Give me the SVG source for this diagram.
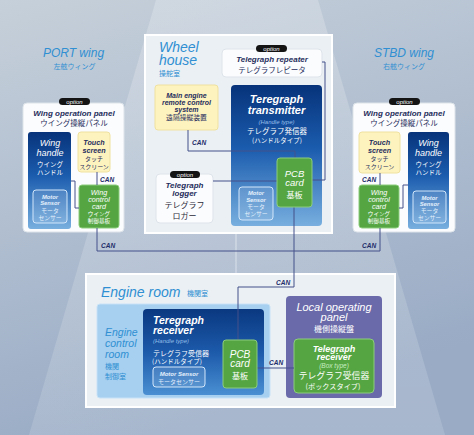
<svg xmlns="http://www.w3.org/2000/svg" width="474" height="435" viewBox="0 0 474 435">
<defs>
<linearGradient id="bg" x1="0" y1="0" x2="0.3" y2="1"><stop offset="0" stop-color="#c6d0da"/><stop offset="1" stop-color="#99abc5"/></linearGradient>
<linearGradient id="beam" x1="0" y1="0" x2="0" y2="1"><stop offset="0" stop-color="#ffffff" stop-opacity="0.22"/><stop offset="1" stop-color="#ffffff" stop-opacity="0.14"/></linearGradient>
<linearGradient id="blueG" x1="0" y1="0" x2="0" y2="1"><stop offset="0" stop-color="#07337a"/><stop offset="0.45" stop-color="#1b5cae"/><stop offset="1" stop-color="#78afdf"/></linearGradient>
<linearGradient id="blueR" x1="0" y1="0" x2="0" y2="1"><stop offset="0" stop-color="#0a3880"/><stop offset="0.5" stop-color="#1c5aaa"/><stop offset="1" stop-color="#4a8fd2"/></linearGradient>
<style>
.t{font-family:"Liberation Sans",Arial,"Noto Sans CJK JP",sans-serif}
.j{font-family:"Noto Sans CJK JP","Noto Sans CJK SC",sans-serif}
.m{text-anchor:middle}
.bi{font-weight:bold;font-style:italic}
.i{font-style:italic}
.nv{fill:#1f2d5c}
.w{fill:#fff}
.ttl{fill:#2f8fd2;font-style:italic;font-family:"Liberation Sans",Arial,sans-serif}
.ttlj{fill:#2f8fd2;font-family:"Noto Sans CJK JP",sans-serif}
.can{font-family:"Liberation Sans",Arial,sans-serif;font-weight:bold;font-style:italic;font-size:6.5px;fill:#1f2d6a}
.pill{fill:#141414}
.pt{font-family:"Liberation Sans",Arial,sans-serif;font-style:italic;font-size:6px;fill:#fff;text-anchor:middle}
.ln{fill:none;stroke:#45508a;stroke-width:1}
.panel{fill:#ebf0f4;stroke:#ffffff;stroke-width:2}
.wbox{fill:#fbfcfd;stroke:#dde4ea;stroke-width:1}
.yel{fill:#fdf3bf;stroke:#efe1a0;stroke-width:1}
.grn{fill:#55a643;stroke:#8ccc7c;stroke-width:1}
.ms{fill:#ffffff;fill-opacity:0.12;stroke:#d2e6fa;stroke-width:1}
.lt{fill:#e4f0fc}
</style>
</defs>

<rect width="474" height="435" fill="url(#bg)"/>
<polygon points="156,0 318,0 445,435 29,435" fill="url(#beam)"/>
<line x1="236" y1="233" x2="236" y2="274" stroke="#ffffff" stroke-opacity="0.5"/>

<!-- area titles -->
<g id="port-title">
<text class="ttl m" x="73.5" y="57" font-size="12">PORT wing</text>
<text class="ttlj m" x="74.5" y="68.5" font-size="7">左舷ウィング</text>
</g>
<g id="stbd-title">
<text class="ttl m" x="404" y="57" font-size="12">STBD wing</text>
<text class="ttlj m" x="404" y="69" font-size="7">右舷ウィング</text>
</g>

<!-- Wheel house -->
<g id="wheelhouse">
<rect class="panel" x="145" y="35" width="187" height="198"/>
<text class="ttl" x="159" y="52" font-size="14">Wheel</text>
<text class="ttl" x="159" y="65" font-size="14">house</text>
<text class="ttlj" x="159" y="76" font-size="7">操舵室</text>
</g>

<!-- Engine room -->
<g id="engineroom">
<rect class="panel" x="86" y="274" width="309" height="133"/>
<text class="ttl" x="101" y="297" font-size="14">Engine room</text>
<text class="ttlj" x="187" y="296" font-size="7">機関室</text>
</g>

<g id="engine-control-room">
<rect x="97" y="304" width="173" height="94" rx="3" fill="#a6cff0" stroke="#c8e2f6"/>
<text class="ttl" x="105" y="336" font-size="10.5">Engine</text>
<text class="ttl" x="105" y="347" font-size="10.5">control</text>
<text class="ttl" x="105" y="358" font-size="10.5">room</text>
<text class="ttlj" x="105" y="369" font-size="7">機関</text>
<text class="ttlj" x="105" y="379" font-size="7">制御室</text>
</g>

<!-- Left wing panel -->
<g id="port-wing-panel">
<rect class="wbox" x="23" y="103" width="101" height="129" rx="4"/>
<rect class="pill" x="59" y="98" width="31" height="7" rx="3.5"/>
<text class="pt" x="74.5" y="103.8">option</text>
<text class="t bi nv m" x="74" y="116" font-size="8">Wing operation panel</text>
<text class="j nv m" x="74" y="126" font-size="7.5">ウイング操縦パネル</text>
</g>
<g id="port-wing-handle">
<rect x="28" y="132" width="43" height="97" rx="3" fill="url(#blueG)"/>
<text class="t i w m" x="50" y="146" font-size="9">Wing</text>
<text class="t i w m" x="50" y="156" font-size="9">handle</text>
<text class="j w m" x="50" y="166.5" font-size="6.5">ウイング</text>
<text class="j w m" x="50" y="175" font-size="6.5">ハンドル</text>
<rect class="ms" x="33" y="190" width="34" height="33" rx="3"/>
<text class="t bi m lt" x="50" y="199" font-size="5.8">Motor</text>
<text class="t bi m lt" x="50" y="205" font-size="5.8">Sensor</text>
<text class="j m lt" x="50" y="212.5" font-size="5.8">モータ</text>
<text class="j m lt" x="50" y="220" font-size="5.8">センサー</text>
</g>
<g id="port-touch-screen">
<rect class="yel" x="78" y="132" width="32" height="40" rx="3"/>
<text class="t bi nv m" x="94" y="145" font-size="7.2">Touch</text>
<text class="t bi nv m" x="94" y="152.5" font-size="7.2">screen</text>
<text class="j nv m" x="94" y="161" font-size="6">タッチ</text>
<text class="j nv m" x="94" y="168.5" font-size="6">スクリーン</text>
</g>
<g id="port-wing-control-card">
<rect class="grn" x="79" y="185" width="40" height="43" rx="3"/>
<text class="t i w m" x="99" y="194.5" font-size="7.2">Wing</text>
<text class="t i w m" x="99" y="201.5" font-size="7.2">control</text>
<text class="t i w m" x="99" y="208.5" font-size="7.2">card</text>
<text class="j w m" x="99" y="215.5" font-size="5.6">ウイング</text>
<text class="j w m" x="99" y="223" font-size="5.6">制御基板</text>
</g>

<!-- Right wing panel -->
<g id="stbd-wing-panel">
<rect class="wbox" x="353" y="103" width="102" height="129" rx="4"/>
<rect class="pill" x="389" y="98" width="31" height="7" rx="3.5"/>
<text class="pt" x="404.5" y="103.8">option</text>
<text class="t bi nv m" x="404" y="116" font-size="8">Wing operation panel</text>
<text class="j nv m" x="404" y="126" font-size="7.5">ウイング操縦パネル</text>
</g>
<g id="stbd-touch-screen">
<rect class="yel" x="359" y="132" width="41" height="41" rx="3"/>
<text class="t bi nv m" x="379.5" y="145" font-size="7.2">Touch</text>
<text class="t bi nv m" x="379.5" y="152.5" font-size="7.2">screen</text>
<text class="j nv m" x="379.5" y="161" font-size="6">タッチ</text>
<text class="j nv m" x="379.5" y="168.5" font-size="6">スクリーン</text>
</g>
<g id="stbd-wing-handle">
<rect x="408" y="132" width="41" height="97" rx="3" fill="url(#blueG)"/>
<text class="t i w m" x="428.5" y="146" font-size="9">Wing</text>
<text class="t i w m" x="428.5" y="156" font-size="9">handle</text>
<text class="j w m" x="428.5" y="166.5" font-size="6.5">ウイング</text>
<text class="j w m" x="428.5" y="175" font-size="6.5">ハンドル</text>
<rect class="ms" x="413" y="191" width="33" height="32" rx="3"/>
<text class="t bi m lt" x="429.5" y="199.5" font-size="5.8">Motor</text>
<text class="t bi m lt" x="429.5" y="205.5" font-size="5.8">Sensor</text>
<text class="j m lt" x="429.5" y="212.5" font-size="5.8">モータ</text>
<text class="j m lt" x="429.5" y="220" font-size="5.8">センサー</text>
</g>
<g id="stbd-wing-control-card">
<rect class="grn" x="359" y="185" width="40" height="43" rx="3"/>
<text class="t i w m" x="379" y="194.5" font-size="7.2">Wing</text>
<text class="t i w m" x="379" y="201.5" font-size="7.2">control</text>
<text class="t i w m" x="379" y="208.5" font-size="7.2">card</text>
<text class="j w m" x="379" y="215.5" font-size="5.6">ウイング</text>
<text class="j w m" x="379" y="223" font-size="5.6">制御基板</text>
</g>

<!-- Wheel house nodes -->
<g id="telegraph-repeater">
<rect class="wbox" x="222" y="49" width="100" height="28" rx="4"/>
<rect class="pill" x="256" y="45" width="31" height="7" rx="3.5"/>
<text class="pt" x="271.5" y="50.8">option</text>
<text class="t bi nv m" x="272" y="62" font-size="8">Telegraph repeater</text>
<text class="j nv m" x="272" y="72.5" font-size="7.5">テレグラフレピータ</text>
</g>
<g id="main-engine-remote">
<rect class="yel" x="155" y="85" width="63" height="45" rx="3"/>
<text class="t bi nv m" x="186.5" y="98" font-size="7">Main engine</text>
<text class="t bi nv m" x="186.5" y="105" font-size="7">remote control</text>
<text class="t bi nv m" x="186.5" y="111.5" font-size="7">system</text>
<text class="j nv m" x="186.5" y="119.5" font-size="6.8">遠隔操縦装置</text>
</g>
<g id="telegraph-transmitter">
<rect x="231" y="85" width="91" height="141" rx="4" fill="url(#blueG)"/>
<text class="t bi w m" x="276.5" y="103" font-size="11">Teregraph</text>
<text class="t bi w m" x="276.5" y="113.5" font-size="11">transmitter</text>
<text class="t i m" x="276.5" y="123.5" font-size="6" fill="#93bdea">(Handle type)</text>
<text class="j w m" x="277" y="133.5" font-size="7.5">テレグラフ発信器</text>
<text class="j w m" x="277" y="142.5" font-size="6.5">(ハンドルタイプ)</text>
<rect class="ms" x="239" y="187" width="34" height="33" rx="3"/>
<text class="t bi m lt" x="256" y="195" font-size="5.8">Motor</text>
<text class="t bi m lt" x="256" y="201.5" font-size="5.8">Sensor</text>
<text class="j m lt" x="256" y="209" font-size="5.8">モータ</text>
<text class="j m lt" x="256" y="216" font-size="5.8">センサー</text>
</g>
<g id="telegraph-logger">
<rect class="wbox" x="156" y="174" width="57" height="49" rx="4"/>
<rect class="pill" x="170" y="171" width="30" height="7" rx="3.5"/>
<text class="pt" x="185" y="176.8">option</text>
<text class="t bi nv m" x="184.5" y="188" font-size="8">Telegraph</text>
<text class="t bi nv m" x="184.5" y="196" font-size="8">logger</text>
<text class="j m" x="184.5" y="208" font-size="8" fill="#2a2a3a">テレグラフ</text>
<text class="j m" x="184.5" y="218.5" font-size="8" fill="#2a2a3a">ロガー</text>
</g>

<!-- Engine room nodes -->
<g id="telegraph-receiver-handle">
<rect x="143" y="309" width="121" height="86" rx="4" fill="url(#blueR)"/>
<text class="t bi w" x="153" y="324" font-size="10.5">Teregraph</text>
<text class="t bi w" x="153" y="334" font-size="10.5">receiver</text>
<text class="t i" x="153" y="343" font-size="6" fill="#93bdea">(Handle type)</text>
<text class="j w" x="153" y="355.5" font-size="7">テレグラフ受信器</text>
<text class="j w" x="152" y="363.5" font-size="6.5">(ハンドルタイプ)</text>
<rect class="ms" x="153" y="367" width="52" height="20" rx="3"/>
<text class="t bi m lt" x="179" y="376" font-size="6">Motor Sensor</text>
<text class="j m lt" x="179" y="384" font-size="6">モータセンサー</text>
</g>
<g id="local-operating-panel">
<rect x="286" y="296" width="96" height="102" rx="4" fill="#6a6aaa"/>
<text class="t i w m" x="334" y="311" font-size="11">Local operating</text>
<text class="t i w m" x="334" y="320.5" font-size="11">panel</text>
<text class="j w m" x="334" y="332" font-size="8">機側操縦盤</text>
</g>
<g id="telegraph-receiver-box">
<rect class="grn" x="294" y="339" width="80" height="54" rx="4"/>
<text class="t bi w m" x="334" y="352" font-size="9">Telegraph</text>
<text class="t bi w m" x="334" y="360" font-size="9">receiver</text>
<text class="t i m" x="334" y="367.5" font-size="6.5" fill="#c8ecc0">(Box type)</text>
<text class="j w m" x="334" y="378.5" font-size="8.8">テレグラフ受信器</text>
<text class="j w m" x="333" y="388.5" font-size="7.2">(ボックスタイプ)</text>
</g>

<!-- Connectors -->
<g id="connectors">
<polyline class="ln" points="97,172 97,185"/>
<polyline class="ln" points="71,181 75,181 75,208 79,208"/>
<polyline class="ln" points="380,173 380,185"/>
<polyline class="ln" points="399,208 403,208 403,185 408,185"/>
<polyline class="ln" points="97,228 97,251 380,251 380,228"/>
<polyline class="ln" points="322,62 325,62 325,180 312,180"/>
<polyline class="ln" points="188,130 188,151 295,151 295,158"/>
<polyline class="ln" points="213,181 277,181"/>
<polyline class="ln" points="294,207 294,287 238,287 238,340"/>
<polyline class="ln" points="257,368 294,368"/>
<text class="can" x="100" y="182">CAN</text>
<text class="can" x="362" y="182">CAN</text>
<text class="can" x="192" y="145">CAN</text>
<text class="can" x="101" y="248">CAN</text>
<text class="can" x="362" y="248">CAN</text>
<text class="can" x="276" y="284.5">CAN</text>
<text class="can" x="269" y="365">CAN</text>
</g>

<!-- PCB cards drawn over connectors -->
<g id="pcb-card-wheelhouse">
<rect class="grn" x="277" y="158" width="35" height="49" rx="3"/>
<text class="t i w m" x="294.5" y="177" font-size="9.5">PCB</text>
<text class="t i w m" x="294.5" y="185.5" font-size="9.5">card</text>
<text class="j w m" x="294.5" y="197.5" font-size="8">基板</text>
</g>
<g id="pcb-card-engine">
<rect class="grn" x="223" y="340" width="34" height="48" rx="3"/>
<text class="t i w m" x="240" y="358" font-size="10">PCB</text>
<text class="t i w m" x="240" y="366.5" font-size="10">card</text>
<text class="j w m" x="240" y="379" font-size="8">基板</text>
</g>
</svg>
